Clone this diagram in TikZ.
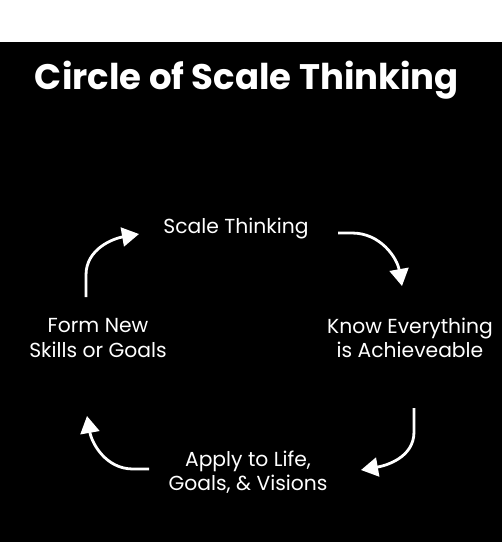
\documentclass[tikz,border=0pt]{standalone}
\usepackage{fontspec}
\setmainfont{Poppins}
\usepackage{tikz}
\usetikzlibrary{
  arrows.meta,
  positioning
}
\definecolor{bgblack}{RGB}{0,0,0}
\definecolor{textwhite}{RGB}{255,255,255}

\begin{document}
\begin{tikzpicture}[
  x=1pt, y=-1pt,
  titlebox/.style={
    text=textwhite,
    font=\fontsize{35.5}{40}\selectfont\bfseries,
    inner sep=0pt
  },
  stagebox/.style={
    text=textwhite,
    align=center,
    font=\fontsize{20.3}{24.5}\selectfont,
    inner sep=0pt
  },
  cyclearrow/.style={
    -{Triangle[length=17pt,width=19pt]},
    line width=2.8pt,
    textwhite
  }
]
\useasboundingbox (0,0) rectangle (502,542);
\fill[white] (0,0) rectangle (502,42);
\fill[bgblack] (0,42) rectangle (502,542);

\node[titlebox] (title) at (247,80) {Circle of Scale Thinking};

\node[stagebox] (scale) at (236,229) {Scale Thinking};
\node[stagebox] (know) at (410,338) {Know Everything\\is Achieveable};
\node[stagebox] (apply) at (248,472) {Apply to Life,\\Goals, \& Visions};
\node[stagebox] (form) at (98,338) {Form New\\Skills or Goals};

% arrow end points
\coordinate (a1s) at (86,297);
\coordinate (a1e) at (139,234);
\coordinate (a2s) at (338,233);
\coordinate (a2e) at (402,286);
\coordinate (a3s) at (414,408);
\coordinate (a3e) at (361,470);
\coordinate (a4s) at (149,469);
\coordinate (a4e) at (87,416);

\draw[cyclearrow] (a1s) -- ++(0,-22) to[out=90,in=190] (a1e);
\draw[cyclearrow] (a2s) -- ++(14,0) to[out=0,in=100] (a2e);
\draw[cyclearrow] (a3s) -- ++(0,24) to[out=-90,in=10] (a3e);
\draw[cyclearrow] (a4s) -- ++(-16,0) to[out=180,in=-80] (a4e);
\end{tikzpicture}
\end{document}
